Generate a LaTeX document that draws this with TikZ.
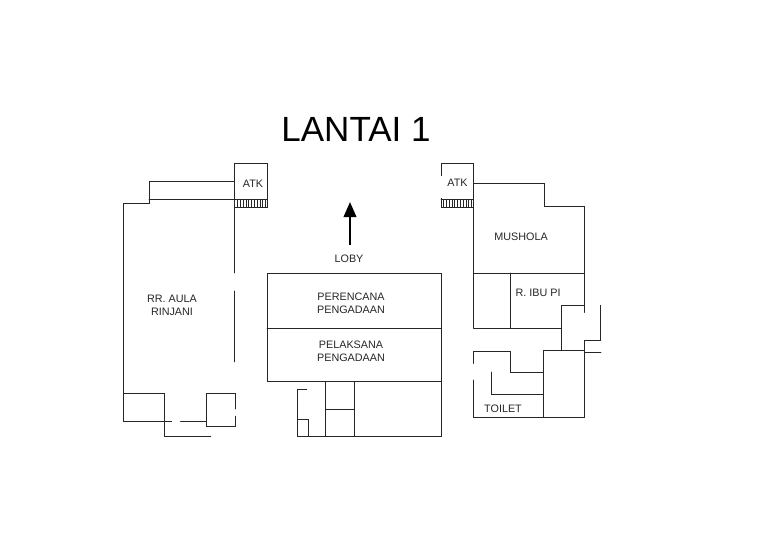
\documentclass[tikz,border=0pt]{standalone}
\usepackage{fontspec}
\setmainfont{Liberation Sans}
\usetikzlibrary{arrows.meta}
\tikzset{
  wall/.style={draw=black!85,line width=0.95pt,line cap=round},
  label/.style={font=\fontsize{10.8}{13}\selectfont,align=center,text=black!85,inner sep=0pt}
}
\begin{document}
\begin{tikzpicture}[x=1pt,y=-1pt]
      \useasboundingbox (0,0) rectangle (768,543);
      \node[font=\fontsize{35}{40}\selectfont,inner sep=0pt] (title) at (356,129) {LANTAI 1};
      \node[label] (atkleft) at (253,183.5) {ATK};
      \node[label] (atkright) at (457.5,183) {ATK};
      \node[label] (loby) at (349,258.5) {LOBY};
      \node[label] (aula) at (172,305) {RR. AULA\\RINJANI};
      \node[label] (perencana) at (351,303.5) {PERENCANA\\PENGADAAN};
      \node[label] (pelaksana) at (351,351) {PELAKSANA\\PENGADAAN};
      \node[label] (mushola) at (521,236.5) {MUSHOLA};
      \node[label] (ibupi) at (538,292.5) {R. IBU PI};
      \node[label] (toilet) at (503,408.5) {TOILET};
      \coordinate (arrowtail) at (350,245);
      \coordinate (arrowhead) at (350,202);
      \draw[black,line width=2.2pt,-{Triangle[length=15pt,width=12.5pt]}] (arrowtail) -- (arrowhead);
      \begin{scope}[wall]
        % aula
        \draw (210.7,436) -- (164,436) -- (164,393.3);
        \draw (171.7,421) -- (123.7,421) -- (123.7,203.3) -- (149,203.3) -- (149,181.7) -- (234.7,181.7);
        \draw (123.7,393.3) -- (164,393.3) -- (164,421);
        \draw (149,199.7) -- (267.3,199.7);
        \draw (234.7,273) -- (234.7,163.3) -- (267.3,163.3) -- (267.3,207) -- (234.7,207);
        \draw (234.7,291) -- (234.7,362);
        \draw (180.7,421) -- (206.7,421);
        \draw (235,409) -- (235,393.3) -- (206.7,393.3) -- (206.7,426) -- (235,426) -- (235,416.3);
        % tengah
        \draw (267,273) rectangle (441,381.7);
        \draw (267,328) -- (441,328);
        \draw (441,381.7) -- (441,436.3) -- (297.7,436.3) -- (297.7,389.7) -- (306.7,389.7);
        \draw (325.7,381.7) -- (325.7,436.3);
        \draw (354.3,381.7) -- (354.3,436.3);
        \draw (325.7,409) -- (354.3,409);
        \draw (297.7,419) -- (308.7,419) -- (308.7,436.3);
        % mushola
        \draw (441,175.7) -- (441,163) -- (473.7,163) -- (473.7,328);
        \draw (441,198.3) -- (441,207) -- (473.7,207);
        \draw (441,199.7) -- (473.7,199.7);
        \draw (473.7,183.3) -- (544,183.3) -- (544,206.7) -- (584.5,206.7) -- (584.5,312.3);
        \draw (473.7,273) -- (584.5,273);
        \draw (510.7,273) -- (510.7,328);
        \draw (473.7,328) -- (561.3,328);
        % toilet
        \draw (561.3,350.3) -- (561.3,305.3) -- (584.5,305.3);
        \draw (600.7,305.3) -- (600.7,340) -- (584.5,340) -- (584.5,417) -- (473.3,417) -- (473.3,380);
        \draw (584.5,352.7) -- (601,352.7);
        \draw (543,417) -- (543,350.3) -- (584.5,350.3);
        \draw (473.3,363.3) -- (473.3,351.7) -- (510.7,351.7) -- (510.7,372.3) -- (543,372.3);
        \draw (491.7,372) -- (491.7,394.7) -- (543,394.7);
      \end{scope}
      % arsir tangga
      \foreach \i in {0,...,10} {
        \draw[black!85,line width=0.8pt] ({237.5+2.8*\i},200) -- ({237.5+2.8*\i},207);
        \draw[black!85,line width=0.8pt] ({443.5+2.8*\i},200) -- ({443.5+2.8*\i},207);
      }
    \end{tikzpicture}
\end{document}
